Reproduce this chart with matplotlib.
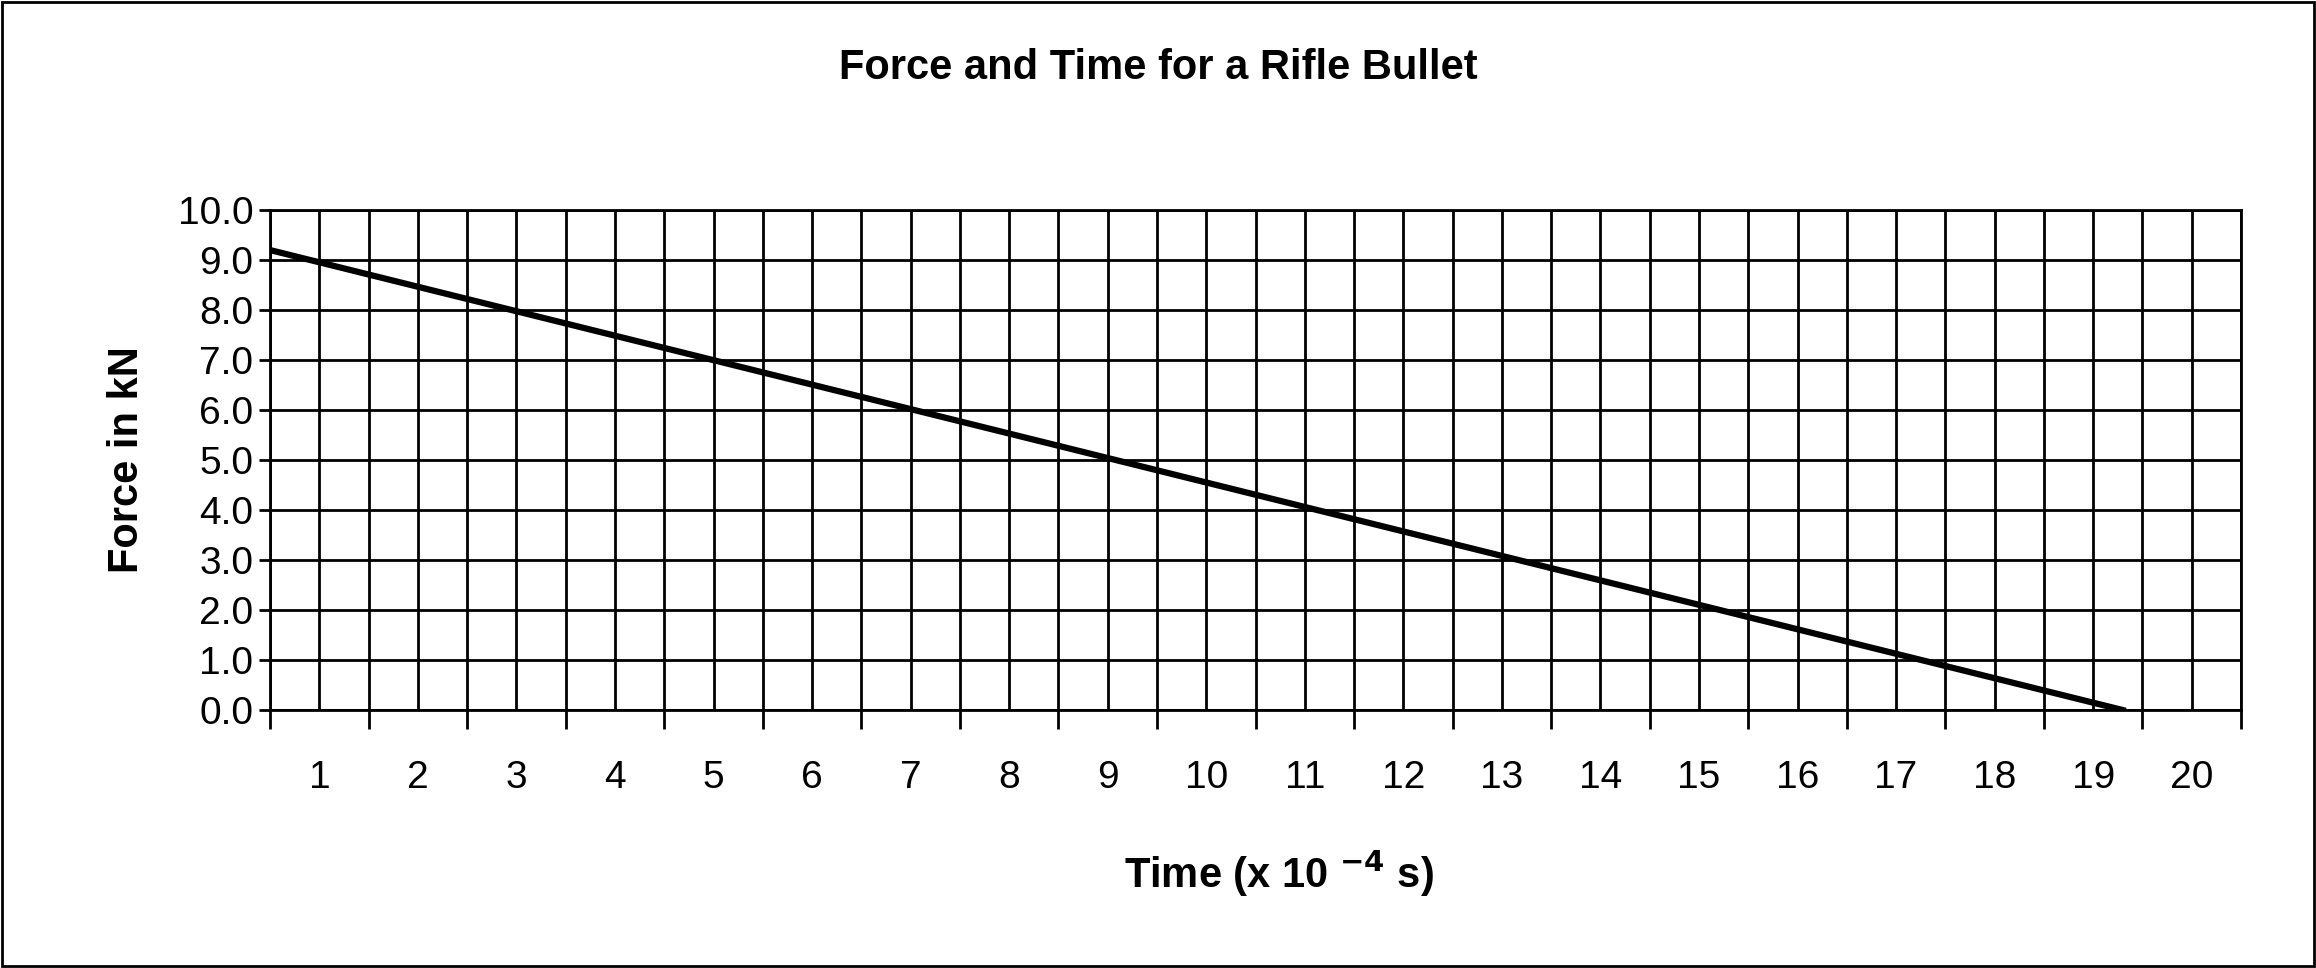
import numpy as np
import matplotlib.pyplot as plt
from matplotlib.patches import Rectangle

# data
time_pts = [0.5, 19.3]
force_pts = [9.2, 0.0]
categories = [str(i) for i in range(1, 21)]
y_ticks = np.arange(0, 11, 1)

plt.rcParams['font.family'] = ['Liberation Sans', 'DejaVu Sans']
plt.rcParams['font.weight'] = 'bold'

fig = plt.figure(figsize=(23.16, 9.68), dpi=100)
ax = fig.add_axes([0.1166, 0.2665, 0.851, 0.5165])

ax.set_xlim(0.5, 20.5)
ax.set_ylim(0, 10)

# grid: vertical every half category, horizontal every 1.0
for x in np.arange(0.5, 20.51, 0.5):
    ax.axvline(x, color='black', lw=2)
for y in y_ticks:
    ax.axhline(y, color='black', lw=2)

ax.plot(time_pts, force_pts, color='black', lw=4.5)

ax.set_xticks(np.arange(0.5, 20.51, 1))
ax.set_xticklabels([])
ax.set_xticks(np.arange(1, 21), minor=True)
ax.set_xticklabels(categories, minor=True, fontsize=28, fontweight='normal')
ax.tick_params(axis='x', which='major', length=14, width=2, direction='out')
ax.tick_params(axis='x', which='minor', length=0, pad=36)
ax.set_yticks(y_ticks)
ax.set_yticklabels(['%.1f' % v for v in y_ticks], fontsize=28, fontweight='normal')
ax.tick_params(axis='y', length=8, width=2, direction='out', pad=4)
for s in ax.spines.values():
    s.set_linewidth(2)

ax.set_ylabel('Force in kN', fontsize=30, fontweight='bold', labelpad=22)
fig.text(0.552, 0.083, r'Time (x 10 $^{-4}$ s)', ha='center', fontsize=30, fontweight='bold')
fig.text(0.5, 0.93, 'Force and Time for a Rifle Bullet', ha='center', va='center',
         fontsize=30, fontweight='bold')

fig.patches.append(Rectangle((0.001, 0.002), 0.998, 0.996, transform=fig.transFigure,
                             fill=False, edgecolor='black', lw=2))

fig.savefig('out.png', dpi=100)
